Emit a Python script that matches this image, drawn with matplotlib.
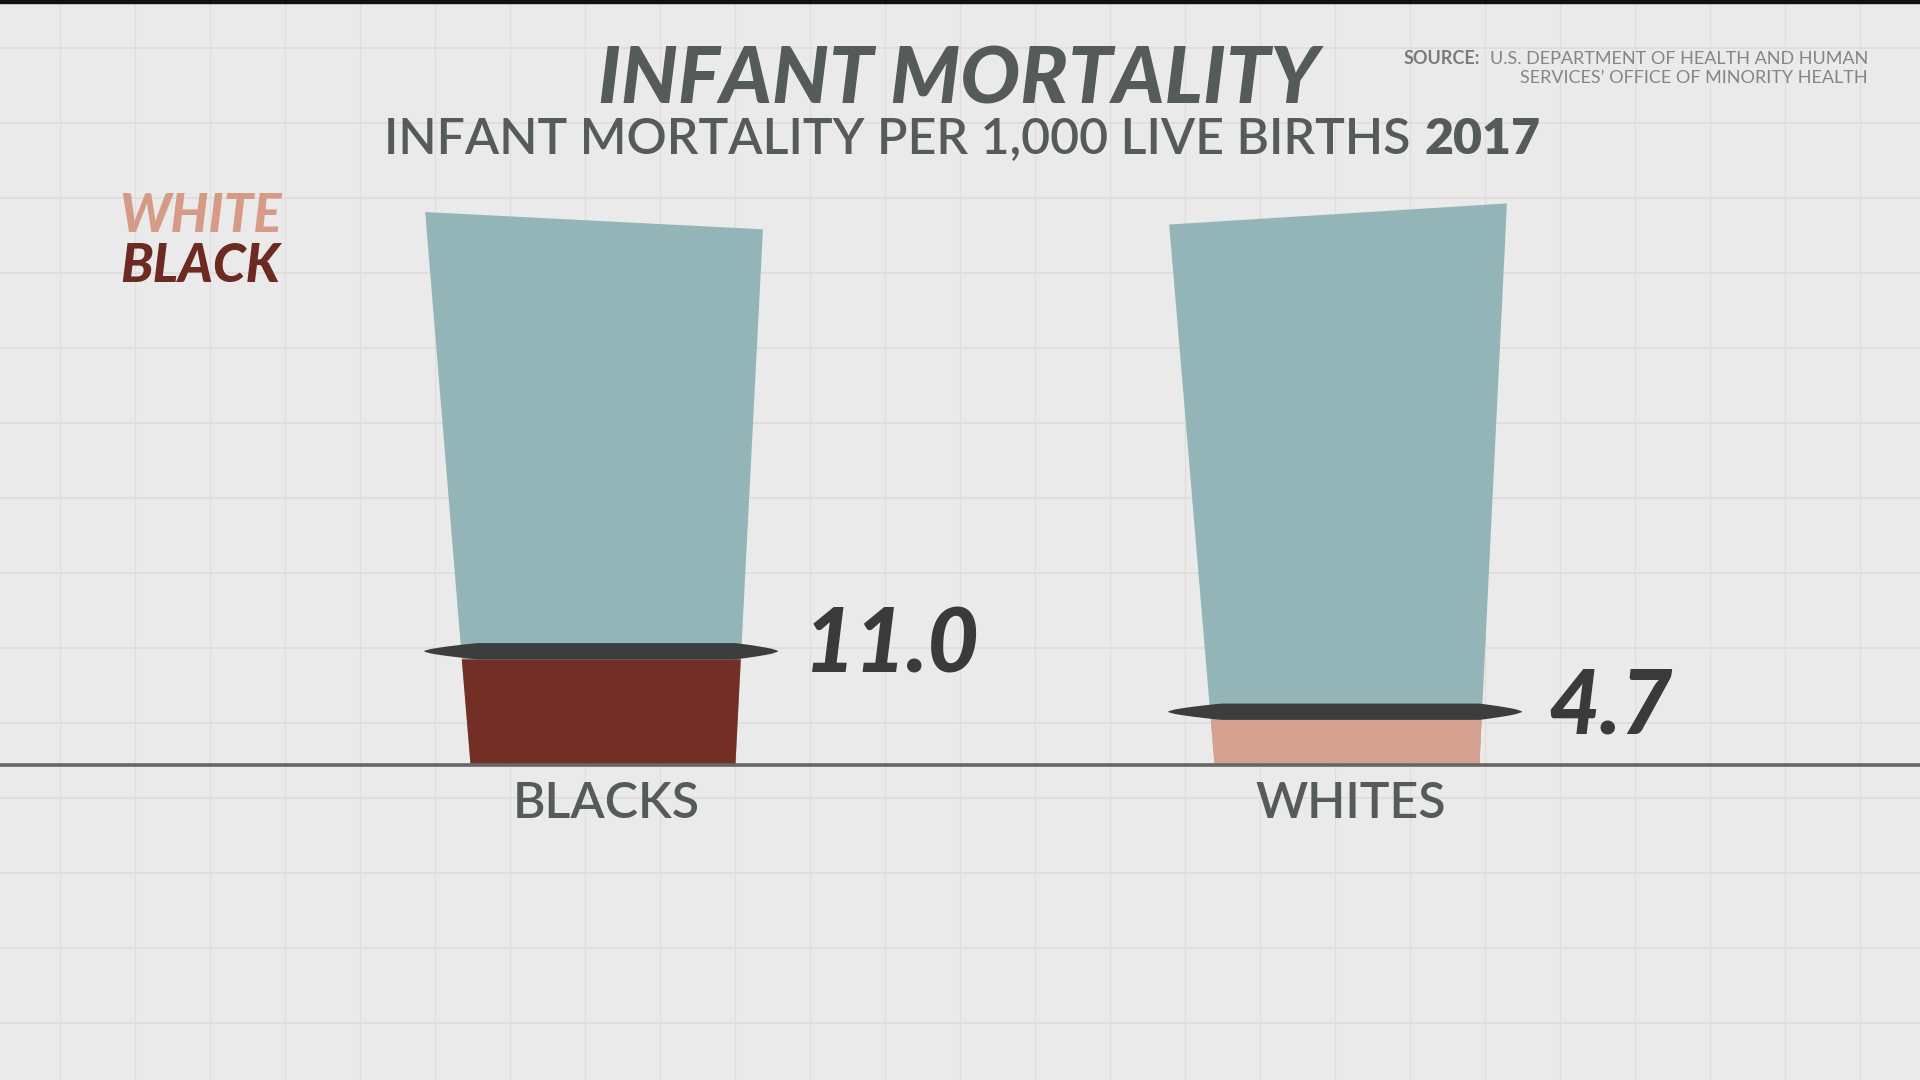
import matplotlib
matplotlib.use("Agg")
import matplotlib.pyplot as plt
from matplotlib.patches import Polygon
import numpy as np

# data
categories = ["BLACKS", "WHITES"]
rates = [11.0, 4.7]
rate_labels = ["11.0", "4.7"]
liquid_colors = ["#732f26", "#d5a292"]
legend_names = ["WHITE", "BLACK"]
legend_colors = ["#d69b87", "#6c2a22"]
title = "INFANT MORTALITY"
subtitle = "INFANT MORTALITY PER 1,000 LIVE BIRTHS"
subtitle_year = "2017"
source_lines = ["U.S. DEPARTMENT OF HEALTH AND HUMAN", "SERVICES\u2019 OFFICE OF MINORITY HEALTH"]

BG = "#ebeaea"
GRID = "#e2dcdc"
TEAL = "#93b5b8"
DARK = "#555a5b"
INK = "#3a3a3a"

W, H = 1920, 1080
fig = plt.figure(figsize=(19.2, 10.8), dpi=100, facecolor=BG)

# background grid paper
bg = fig.add_axes([0, 0, 1, 1])
bg.set_xlim(0, W)
bg.set_ylim(H, 0)
bg.axis("off")
for gx in np.arange(60, W, 75):
    bg.axvline(gx, color=GRID, lw=1.0, zorder=0)
for gy in np.arange(48, H, 75):
    bg.axhline(gy, color=GRID, lw=1.4, zorder=0)
bg.axhspan(0, 3, color="#111111", zorder=1)

# chart axes: x in category units, y in deaths per 1,000
base_px = 765
px_per_unit = 9.6
cx0, cx_step = 603, 744
ax = fig.add_axes([0, 0, 1, 1])
ax.patch.set_alpha(0)
ax.set_xlim(-cx0 / cx_step, (W - cx0) / cx_step)
ax.set_ylim(-(H - base_px) / px_per_unit, base_px / px_per_unit)
ax.axis("off")

cup_top = 56.7
hw_bot, hw_top = 0.178, 0.227
tilt = [(0.9, -0.9), (-0.4, 1.8)]
lean = -0.012


def half_w(h):
    return hw_bot + (hw_top - hw_bot) * h / cup_top


for i, (cat, v) in enumerate(zip(categories, rates)):
    tl, tr = tilt[i]
    cup = [(i - hw_bot, 0), (i + hw_bot, 0),
           (i + lean + hw_top, cup_top + tr), (i + lean - hw_top, cup_top + tl)]
    ax.add_patch(Polygon(cup, closed=True, fc=TEAL, ec="none", zorder=2))
    off = lean * v / cup_top
    liq = [(i - hw_bot, 0), (i + hw_bot, 0),
           (i + off + half_w(v), v), (i + off - half_w(v), v)]
    ax.add_patch(Polygon(liq, closed=True, fc=liquid_colors[i], ec="none", zorder=3))

    # brush stroke at the fill level
    sy = v + 0.8
    xl, xr = i - 0.24, i + 0.235
    t = np.linspace(0, 1, 60)
    env = np.clip(np.minimum(t / 0.15, (1 - t) / 0.12), 0, 1) ** 0.7
    xs = xl + (xr - xl) * t
    top = sy + 0.8 * env + 0.1
    bot = sy - 0.8 * env
    pts = list(zip(xs, top)) + list(zip(xs[::-1], bot[::-1]))
    ax.add_patch(Polygon(pts, closed=True, fc="#3d3d3d", ec="none", zorder=4))

    ax.text(i + 0.27, v + 1.3, rate_labels[i], ha="left", va="center",
            fontsize=64, family="Lato", weight="black", style="italic",
            color=INK, zorder=5)
    ax.text(i + 0.005, -4.0, cat, ha="center", va="center", fontsize=36,
            family="Lato", weight="semibold", color=DARK, zorder=5)

ax.axhline(0, color="#666666", lw=2.6, zorder=6)

# titles
fig.text(0.4995, 1 - 82 / H, title, ha="center", va="center", fontsize=57,
         family="Lato", weight="black", style="italic", color=DARK)
fig.text(1410 / W, 1 - 139 / H, subtitle, ha="right", va="center", fontsize=36,
         family="Lato", weight="semibold", color=DARK)
fig.text(1424 / W, 1 - 139 / H, subtitle_year, ha="left", va="center", fontsize=36,
         family="Lato", weight="heavy", color=DARK)

# source
fig.text(1480 / W, 1 - 59 / H, "SOURCE:", ha="right", va="center", fontsize=13,
         family="Lato", weight="bold", color="#7a7a7a")
fig.text(1868 / W, 1 - 59 / H, source_lines[0], ha="right", va="center", fontsize=13,
         family="Lato", color="#858585")
fig.text(1868 / W, 1 - 78 / H, source_lines[1], ha="right", va="center", fontsize=13,
         family="Lato", color="#858585")

# legend words
for k, (name, col) in enumerate(zip(legend_names, legend_colors)):
    fig.text(200 / W, 1 - (216 + 51 * k) / H, name, ha="center", va="center",
             fontsize=38, family="Lato", weight="black", style="italic", color=col)

fig.savefig("out.png", dpi=100, facecolor=BG)
